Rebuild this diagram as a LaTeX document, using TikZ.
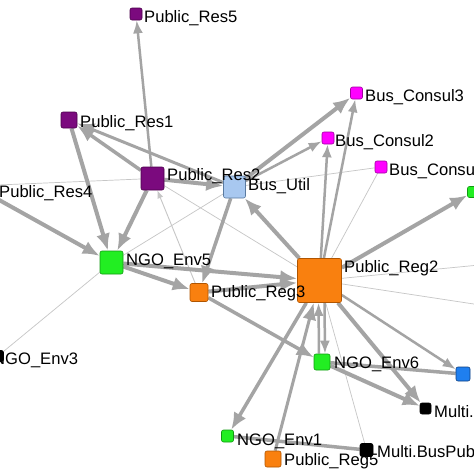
\documentclass[tikz,border=0pt]{standalone}
\usepackage{fontspec}
\setmainfont{Liberation Sans}
\usetikzlibrary{arrows.meta}
\pgfdeclarelayer{bg}
\pgfsetlayers{bg,main}
\definecolor{edgec}{HTML}{A4A4A4}
\definecolor{thinc}{HTML}{C6C6C6}
\definecolor{resf}{HTML}{7B0A7E}
\definecolor{resd}{HTML}{4A004A}
\definecolor{consf}{HTML}{FF00FF}
\definecolor{consd}{HTML}{A000A0}
\definecolor{ngof}{HTML}{22EE22}
\definecolor{ngod}{HTML}{119911}
\definecolor{regf}{HTML}{F9800F}
\definecolor{regd}{HTML}{B05500}
\definecolor{buf}{HTML}{A8C8F0}
\definecolor{bud}{HTML}{5A7AA0}
\definecolor{bluf}{HTML}{1F7FEF}
\definecolor{blud}{HTML}{104080}
\begin{document}
\begin{tikzpicture}[x=1pt,y=-1pt,
  nd/.style={draw, rounded corners=2pt, minimum size=#1, inner sep=0pt, line width=0.6pt},
  pres/.style={nd=#1, fill=resf, draw=resd},
  cons/.style={nd=#1, fill=consf, draw=consd},
  ngo/.style={nd=#1, fill=ngof, draw=ngod},
  reg/.style={nd=#1, fill=regf, draw=regd},
  bu/.style={nd=#1, fill=buf, draw=bud},
  blu/.style={nd=#1, fill=bluf, draw=blud},
  blk/.style={nd=#1, fill=black, draw=black},
  lbl/.style={anchor=base west, inner sep=0pt, font=\fontsize{16.6}{17}\selectfont},
  eH/.style={draw=edgec, line width=4pt, -{Latex[length=17pt,width=14pt]}},
  eHn/.style={draw=edgec, line width=3.5pt},
  eM/.style={draw=edgec, line width=2.5pt, -{Latex[length=13pt,width=10pt]}},
  eT/.style={draw=thinc, line width=0.7pt},
  eTa/.style={draw=thinc, line width=0.9pt, -{Latex[length=8pt,width=6pt]}}]
\useasboundingbox (0,0) rectangle (474,474);
% nodes
\node[pres=12] (R5) at (136,14) {};
\node[pres=16] (R1) at (69,120) {};
\node[pres=23] (R2) at (152.5,178.5) {};
\node[pres=16] (R4) at (-26,186) {};
\node[bu=22] (BU) at (234.5,187) {};
\node[cons=12] (C3) at (356.5,93) {};
\node[cons=12] (C2) at (328,138) {};
\node[cons=12] (C1) at (381,167) {};
\node[ngo=11] (G7) at (473,192) {};
\node[ngo=23] (E5) at (111.5,262.5) {};
\node[reg=18] (RG3) at (199,292.5) {};
\node[reg=44] (RG2) at (319.5,280.5) {};
\node[blk=11] (E3) at (-2,356) {};
\node[ngo=16] (E6) at (322,362) {};
\node[blu=14] (BL) at (463,374) {};
\node[blk=11] (M1) at (425.5,408.5) {};
\node[ngo=12] (E1) at (227.5,436) {};
\node[reg=16] (RG5) at (273,459) {};
\node[blk=13] (MB) at (366.5,450) {};
\coordinate (OA) at (500,263);
\coordinate (OB) at (500,308);
% edges
\begin{pgfonlayer}{bg}
\fill[white] (0,0) rectangle (474,474);
\draw[eT] (R4) -- (R2);
\draw[eT] (BU) -- (C1);
\draw[eT] (RG2) -- (C1);
\draw[eT] (BU) -- (E5);
\draw[eT] (R2) -- (RG2);
\draw[eTa] (RG3) -- (R2);
\draw[eT] (E5) -- (E3);
\draw[eT] (RG2) -- (OA);
\draw[eT] (RG2) -- (OB);
\draw[eT] (RG2) -- (MB);
\draw[eM] (R2) -- (R5);
\draw[eH, line width=3.5pt] (R2) -- (R1);
\draw[eH, line width=3pt] (BU) -- (R1);
\draw[eH] (R1) -- (E5);
\draw[eH] (R2) -- (E5);
\draw[eH] (R4) -- (E5);
\draw[eH] (R2) -- (BU);
\draw[eH] (BU) -- (C3);
\draw[eM] (BU) -- (C2);
\draw[eM] (RG2) -- (C3);
\draw[eM] (RG2) -- (C2);
\draw[eH] (RG2) -- (G7);
\draw[eH] (RG2) -- (BU);
\draw[eH, line width=3.5pt] (BU) -- (RG3);
\draw[eH] (E5) -- (RG3);
\draw[eH] (E5) -- (RG2);
\draw[eH] (RG3) -- (RG2);
\draw[eM] (RG2) -- (BL);
\draw[eH] (RG2) -- (M1);
\draw[eH] (E6) -- (M1);
\draw[eHn] (E6) -- (BL);
\draw[eM] ([xshift=5pt]RG2.south) -- ([xshift=3pt]E6.north);
\draw[eM] ([xshift=-3pt]E6.north) -- ([xshift=-1pt]RG2.south);
\draw[eH, line width=3.5pt] (RG3) -- (E6);
\draw[eH, line width=3.5pt] (RG2) -- (E1);
\draw[eH, line width=3pt] (RG5) -- (RG2);
\draw[eHn] (E1) -- (MB);
\end{pgfonlayer}
% labels
\node[lbl] (tR5) at (144,22) {Public\_Res5};
\node[lbl] (tR1) at (80,127) {Public\_Res1};
\node[lbl] (tR2) at (167,180) {Public\_Res2};
\node[lbl] (tR4) at (-1,197) {Public\_Res4};
\node[lbl] (tBU) at (248,190) {Bus\_Util};
\node[lbl] (tC3) at (365,101) {Bus\_Consul3};
\node[lbl] (tC2) at (335,146) {Bus\_Consul2};
\node[lbl] (tC1) at (389,175) {Bus\_Consul1};
\node[lbl] (tE5) at (126,265) {NGO\_Env5};
\node[lbl] (tRG3) at (211,297) {Public\_Reg3};
\node[lbl] (tRG2) at (344,272) {Public\_Reg2};
\node[lbl] (tE3) at (-7,364) {NGO\_Env3};
\node[lbl] (tE6) at (334,368) {NGO\_Env6};
\node[lbl] (tM1) at (434,417) {Multi.};
\node[lbl] (tE1) at (237,445) {NGO\_Env1};
\node[lbl] (tRG5) at (284,465) {Public\_Reg5};
\node[lbl] (tMB) at (377,457) {Multi.BusPub};
\end{tikzpicture}
\end{document}
